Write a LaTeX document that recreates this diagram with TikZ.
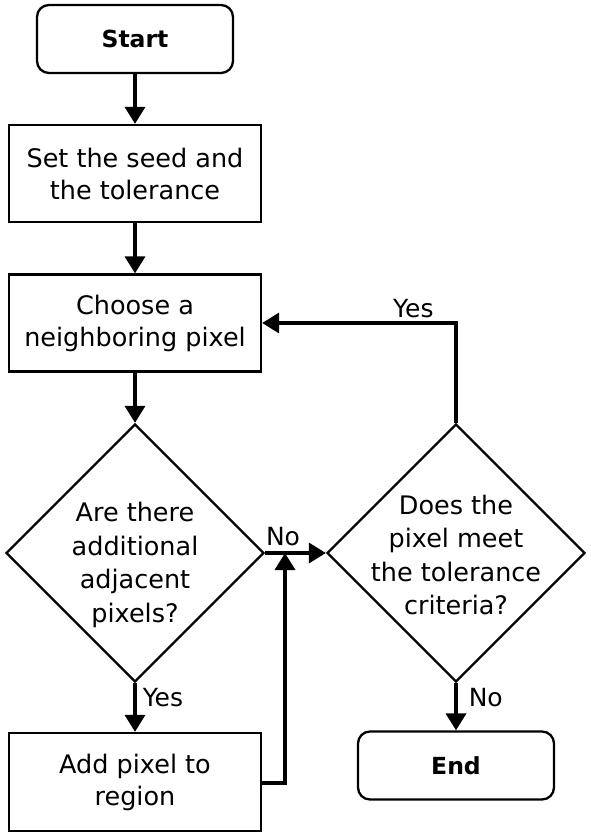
\documentclass[tikz,border=0pt]{standalone}
\usepackage{fontspec}
\setmainfont{DejaVu Sans}
\usetikzlibrary{shapes.geometric,arrows.meta}
\tikzset{
  base/.style={draw, line width=2.3pt, align=center, font=\fontsize{25.5}{32}\selectfont, inner sep=0pt},
  terminal/.style={base, rounded corners=12pt, minimum width=196pt, minimum height=68pt, font=\fontsize{23.5}{32}\selectfont\bfseries},
  process/.style={base, minimum width=252pt, minimum height=97pt},
  decision/.style={base, diamond, aspect=1, minimum width=258pt, minimum height=258pt},
  txt/.style={align=center, font=\fontsize{25.5}{33.5}\selectfont, inner sep=0pt},
  lbl/.style={font=\fontsize{25}{26}\selectfont, inner sep=0pt},
  conn/.style={line width=3.5pt, -{Triangle[length=17pt,width=20pt]}}
}
\begin{document}
\begin{tikzpicture}[x=1pt,y=-1pt]
\useasboundingbox (0,0) rectangle (590,837);
\node[terminal] (start) at (135,39) {Start};
\node[process] (seed) at (135,173.5) {Set the seed and\\the tolerance};
\node[process] (choose) at (135,323) {Choose a\\neighboring pixel};
\node[decision, label={[txt, yshift=-12pt]center:Are there\\additional\\adjacent\\pixels?}] (d1) at (135,553) {};
\node[decision, label={[txt, yshift=-2pt]center:Does the\\pixel meet\\the tolerance\\criteria?}] (d2) at (456,553) {};
\node[process, minimum height=98pt] (add) at (135,782) {Add pixel to\\region};
\node[terminal] (end) at (456,765.5) {End};
\coordinate (j) at (285,553);
\draw[conn] (start) -- (seed);
\draw[conn] (seed) -- (choose);
\draw[conn] (choose) -- (d1);
\draw[conn] (d1.east) -- (d2.west);
\draw[conn] (d1.south) -- node[lbl, right=6pt, pos=0.3]{Yes} (add);
\draw[conn] (d2.south) -- node[lbl, right=11pt, pos=0.3]{No} (end);
\draw[conn] (add.east |- 0,783) -| (j);
\draw[conn] (d2.north) |- node[lbl, pos=0.61, above=3pt]{Yes} (choose.east);
\node[lbl] (nolbl) at (283,537) {No};
\end{tikzpicture}
\end{document}
